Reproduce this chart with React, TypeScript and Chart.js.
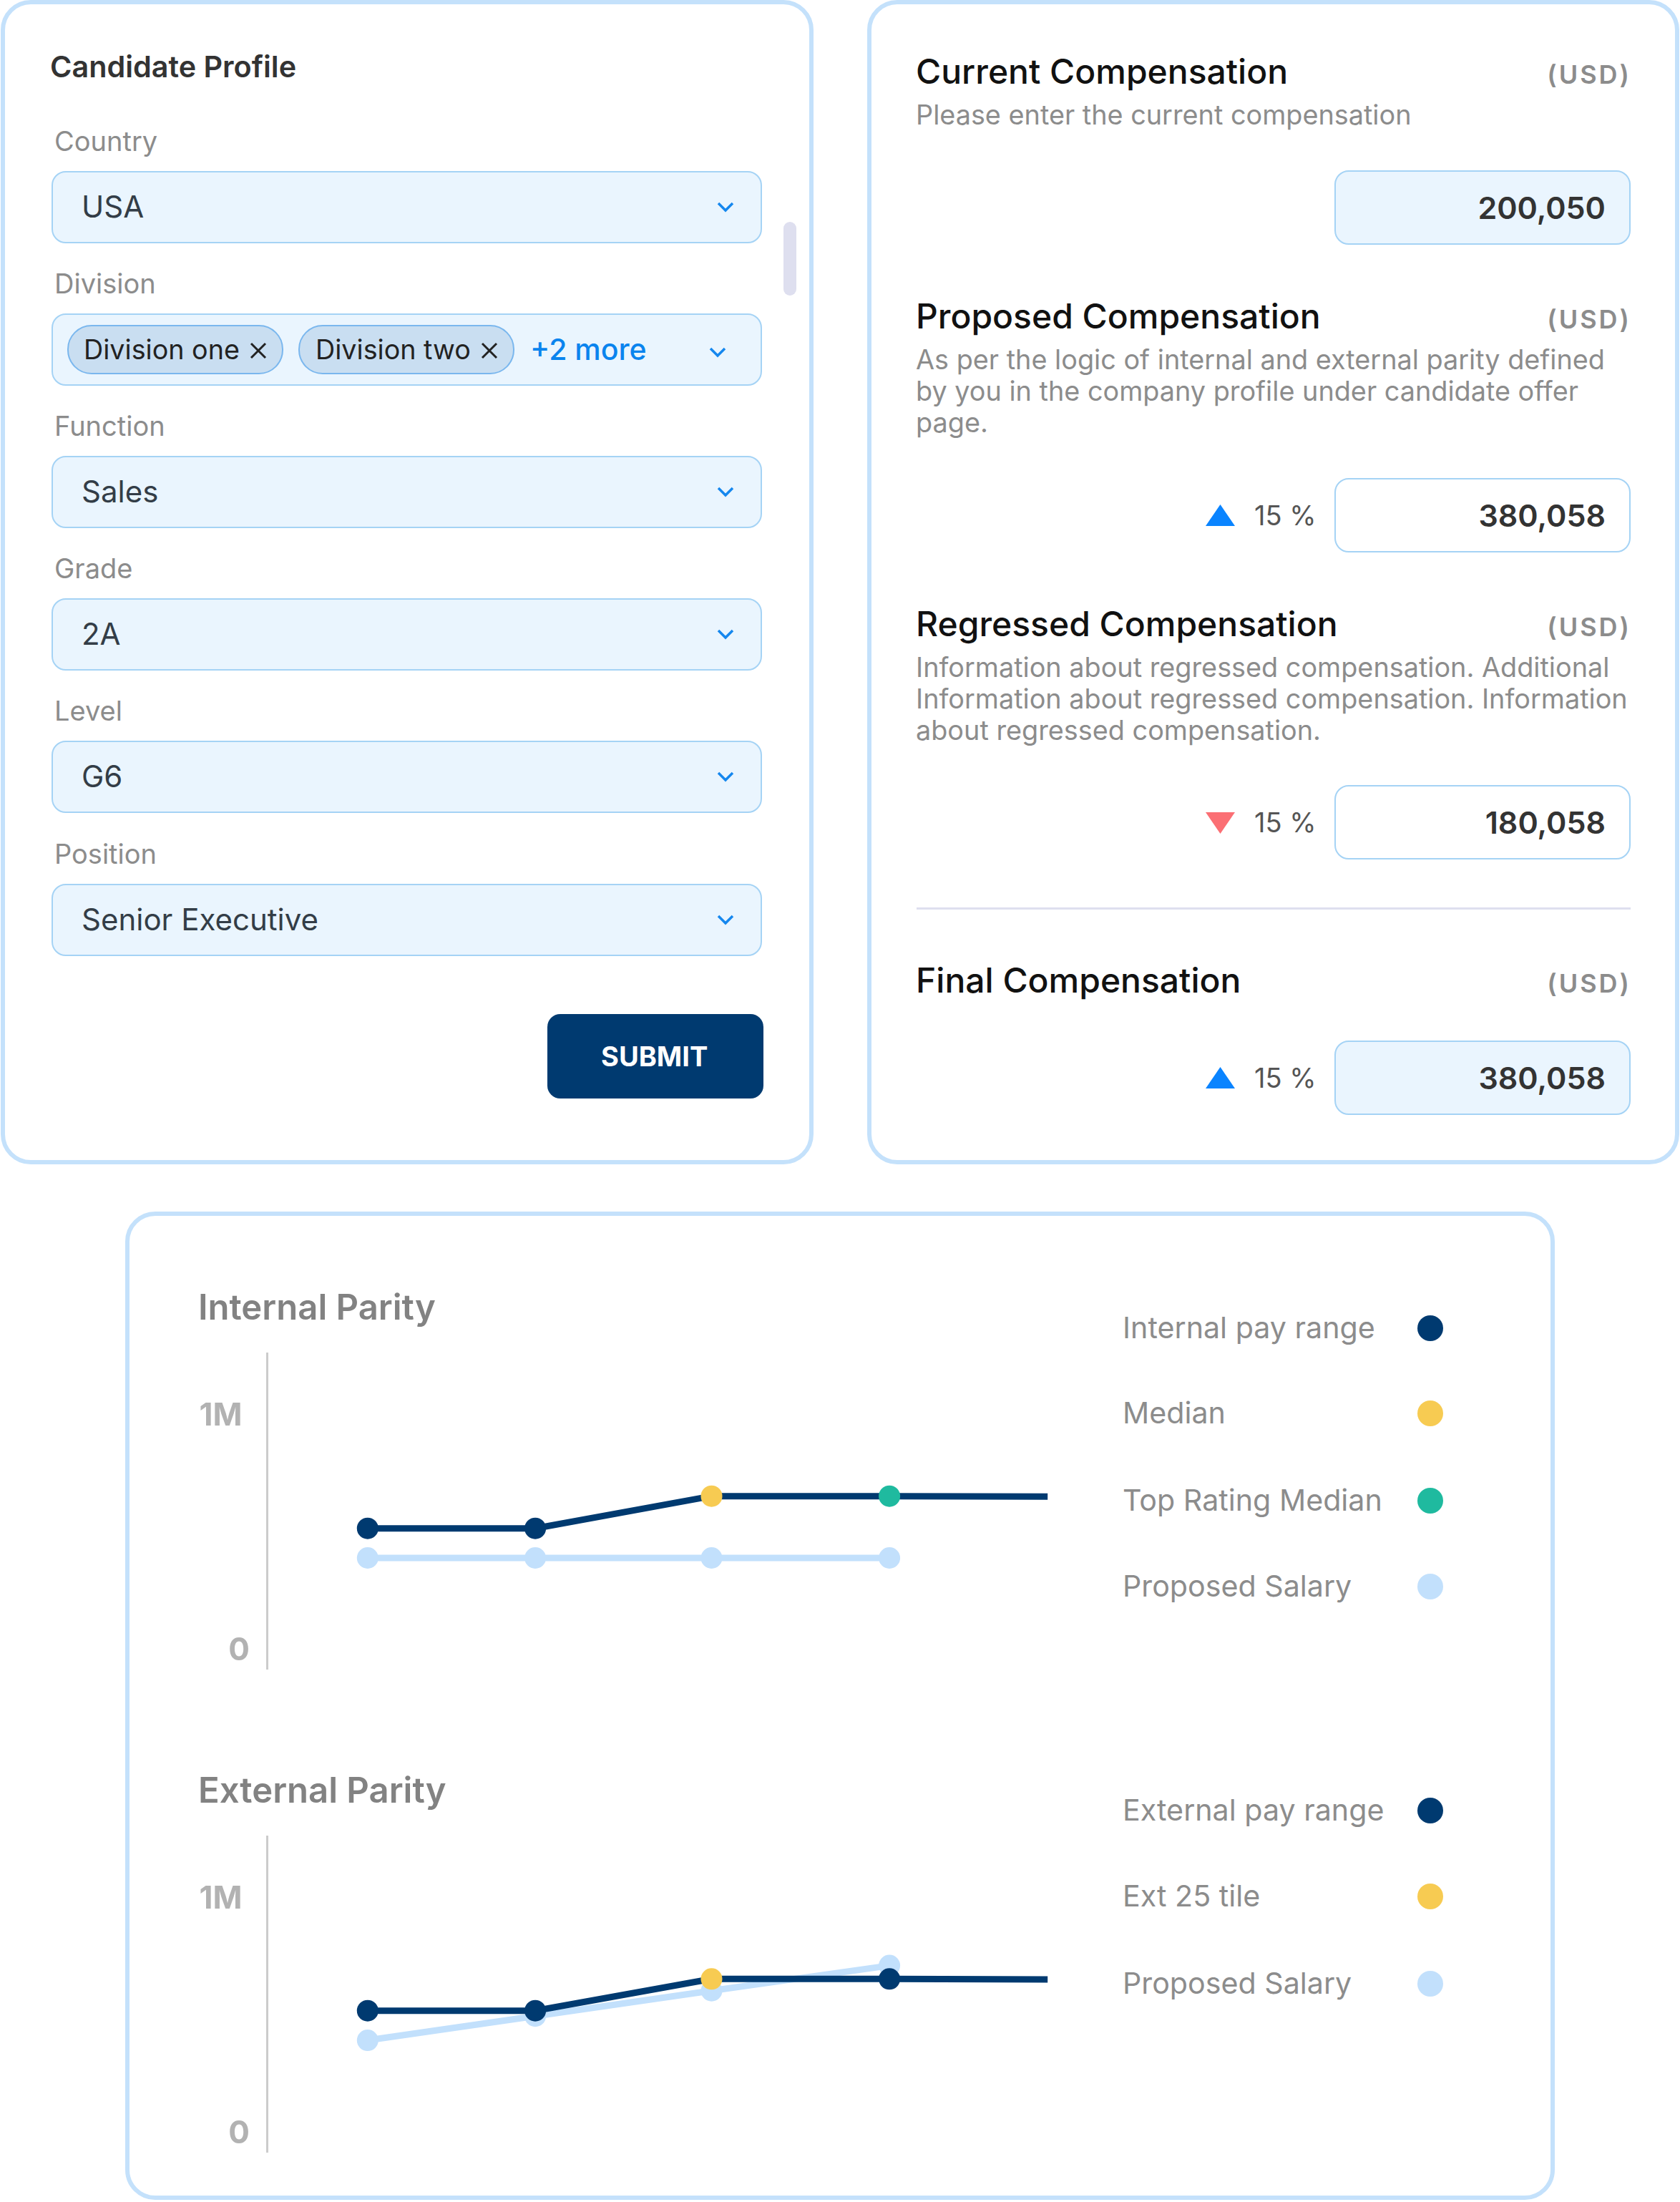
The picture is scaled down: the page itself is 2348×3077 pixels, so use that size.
import { useEffect, useRef } from "react";
import type { CSSProperties, ReactNode } from "react";
import Chart from "chart.js/auto";

// stops along the x axis (0-100), same for both parity charts
const xStops = [12.8, 34.1, 56.5, 79.1, 99.2];
const yTickValues = [0, 1];
const yTickLabels = ["0", "1M "];

const DARK = "#003a70";
const LIGHT = "#c2e0fc";
const YELLOW = "#f7cb52";
const TEAL = "#1fba9f";

const internalRange = [0.515, 0.515, 0.652, 0.652, 0.65];
const internalProposed = [0.389, 0.389, 0.389, 0.389];
const internalColors = [DARK, DARK, YELLOW, TEAL, DARK];

const externalRange = [0.518, 0.518, 0.653, 0.653, 0.651];
const externalProposed = [0.392, 0.495, 0.603, 0.71];
const externalColors = [DARK, DARK, YELLOW, DARK, DARK];

const internalLegend = ["Internal pay range", "Median", "Top Rating Median", "Proposed Salary"];
const internalLegendColors = [DARK, YELLOW, TEAL, LIGHT];
const externalLegend = ["External pay range", "Ext 25 tile", "Proposed Salary"];
const externalLegendColors = [DARK, YELLOW, LIGHT];

const dropdowns = [
  { label: "Country", value: "USA", top: 239 },
  { label: "Division", value: "", top: 438 },
  { label: "Function", value: "Sales", top: 637 },
  { label: "Grade", value: "2A", top: 836 },
  { label: "Level", value: "G6", top: 1035 },
  { label: "Position", value: "Senior Executive", top: 1235 },
];

const FONT = "Inter";
const CARD_BORDER = "#c4e1fb";
const INPUT_BG = "#eaf5fe";
const INPUT_BORDER = "#a5d3f5";
const GREY = "#8c8c8c";

function T({ x, y, right, size, color, weight = 400, spacing, children }: {
  x?: number;
  y: number;
  right?: number;
  size: number;
  color: string;
  weight?: number;
  spacing?: number;
  children: ReactNode;
}) {
  const style: CSSProperties = {
    position: "absolute",
    top: y,
    transform: "translateY(-50%)",
    fontSize: size,
    color,
    fontWeight: weight,
    letterSpacing: spacing,
    whiteSpace: "nowrap",
    lineHeight: 1,
  };
  if (right !== undefined) style.right = 2348 - right;
  else style.left = x;
  return <div style={style}>{children}</div>;
}

function Box({ x, y, w, h, r, bg, border, bw = 2 }: {
  x: number; y: number; w: number; h: number; r: number; bg?: string; border?: string; bw?: number;
}) {
  return (
    <div
      style={{
        position: "absolute",
        left: x,
        top: y,
        width: w,
        height: h,
        borderRadius: r,
        background: bg,
        border: border ? `${bw}px solid ${border}` : undefined,
        boxSizing: "border-box",
      }}
    />
  );
}

function Chevron({ cx, cy }: { cx: number; cy: number }) {
  return (
    <svg style={{ position: "absolute", left: cx - 13, top: cy - 8 }} width={26} height={16}>
      <polyline points="3,3 13,13 23,3" fill="none" stroke="#1587ee" strokeWidth={3.5} />
    </svg>
  );
}

function Triangle({ x, y, down }: { x: number; y: number; down?: boolean }) {
  return (
    <svg style={{ position: "absolute", left: x, top: y }} width={41} height={30}>
      <polygon
        points={down ? "0,0 41,0 20.5,30" : "0,30 41,30 20.5,0"}
        fill={down ? "#fb6f74" : "#0a84ff"}
      />
    </svg>
  );
}

function Cross({ cx, cy }: { cx: number; cy: number }) {
  return (
    <svg style={{ position: "absolute", left: cx - 12, top: cy - 12 }} width={24} height={24}>
      <path d="M2 2 L22 22 M22 2 L2 22" stroke="#222" strokeWidth={3} />
    </svg>
  );
}

function ParityChart({ top, range, proposed, colors }: {
  top: number;
  range: number[];
  proposed: number[];
  colors: string[];
}) {
  const canvasRef = useRef<HTMLCanvasElement>(null);

  useEffect(() => {
    if (!canvasRef.current) return;

    const chart = new Chart(canvasRef.current, {
      type: "line",
      data: {
        datasets: [
          {
            data: range.map((v, i) => ({ x: xStops[i], y: v })),
            borderColor: DARK,
            borderWidth: 9,
            pointBackgroundColor: colors,
            pointBorderWidth: 0,
            pointRadius: range.map((_, i) => (i === range.length - 1 ? 0 : 15)),
            order: 1,
          },
          {
            data: proposed.map((v, i) => ({ x: xStops[i], y: v })),
            borderColor: LIGHT,
            borderWidth: 9,
            pointBackgroundColor: LIGHT,
            pointBorderWidth: 0,
            pointRadius: 15,
            order: 2,
          },
        ],
      },
      options: {
        responsive: false,
        animation: false,
        devicePixelRatio: 1,
        layout: { padding: 0, autoPadding: false },
        plugins: { legend: { display: false }, tooltip: { enabled: false } },
        scales: {
          x: { type: "linear", display: false, min: 0, max: 100 },
          y: {
            type: "linear",
            min: -0.086,
            max: 1.263,
            afterBuildTicks: (scale) => {
              scale.ticks = yTickValues.map((value) => ({ value }));
            },
            afterFit: (scale) => {
              // tick labels sit well inside the axis, so no half-label padding
              scale.width = 123;
              scale.paddingTop = 0;
              scale.paddingBottom = 0;
            },
            grid: { display: false, drawTicks: false },
            border: { display: true, color: "#cccccc", width: 3 },
            ticks: {
              padding: 24,
              labelOffset: 2,
              color: "#b2b2b2",
              font: { family: FONT, size: 44, weight: 700 },
              callback: (value) => yTickLabels[yTickValues.indexOf(Number(value))],
            },
          },
        },
      },
    });

    return () => chart.destroy();
  }, [range, proposed, colors]);

  return (
    <canvas
      ref={canvasRef}
      width={1223}
      height={443}
      style={{ position: "absolute", left: 250, top }}
    />
  );
}

function Legend({ items, colors, ys }: { items: string[]; colors: string[]; ys: number[] }) {
  return (
    <>
      {items.map((item, i) => (
        <div key={item}>
          <T x={1569} y={ys[i]} size={41.2} color={GREY}>{item}</T>
          <Box x={1981} y={ys[i] - 18} w={36} h={36} r={18} bg={colors[i]} />
        </div>
      ))}
    </>
  );
}

function CompBlock({ title, titleY, desc, inputY, filled, value, pct, down }: {
  title: string;
  titleY: number;
  desc: string[];
  inputY: number;
  filled?: boolean;
  value: string;
  pct?: boolean;
  down?: boolean;
}) {
  return (
    <>
      <T x={1280} y={titleY} size={48} color="#111" weight={500}>{title}</T>
      <T right={2280} y={titleY + 4} size={36} color={GREY} weight={600} spacing={3}>(USD)</T>
      {desc.map((line, i) => (
        <T key={line} x={1280} y={titleY + 61 + i * 44} size={37.8} color={GREY}>{line}</T>
      ))}
      <Box x={1865} y={inputY} w={414} h={104} r={20} bg={filled ? INPUT_BG : "#fff"} border={INPUT_BORDER} />
      <T right={2244} y={inputY + 52} size={43} color="#333" weight={600}>{value}</T>
      {pct && <Triangle x={1685} y={inputY + (down ? 38 : 37)} down={down} />}
      {pct && <T x={1753} y={inputY + 52} size={38} color="#555">15 %</T>}
    </>
  );
}

export default function App() {
  return (
    <div
      style={{
        position: "absolute",
        left: 0,
        top: 0,
        width: 2348,
        height: 3077,
        overflow: "hidden",
        background: "#fff",
        fontFamily: FONT,
      }}
    >
      {/* left card */}
      <Box x={1} y={0} w={1136} h={1627} r={42} border={CARD_BORDER} bw={6} />
      <T x={70} y={94} size={41.3} color="#333" weight={600}>Candidate Profile</T>
      {dropdowns.map((d) => (
        <div key={d.label}>
          <T x={76} y={d.top - 42} size={38} color={GREY}>{d.label}</T>
          <Box x={72} y={d.top} w={993} h={101} r={20} bg={INPUT_BG} border={INPUT_BORDER} />
          {d.value && <T x={114} y={d.top + 50} size={42} color="#333d47">{d.value}</T>}
          {d.value && <Chevron cx={1014} cy={d.top + 50} />}
        </div>
      ))}
      <Box x={94} y={454} w={302} h={69} r={34} bg="#c9def1" border="#7ab7ee" />
      <T x={117} y={489} size={37.7} color="#222">Division one</T>
      <Cross cx={361} cy={490} />
      <Box x={417} y={454} w={302} h={69} r={34} bg="#c9def1" border="#7ab7ee" />
      <T x={441} y={489} size={37.7} color="#222">Division two</T>
      <Cross cx={684} cy={490} />
      <T x={741} y={488} size={41} color="#0a84ee" weight={500}>+2 more</T>
      <Chevron cx={1003} cy={492} />
      <Box x={1095} y={310} w={18} h={103} r={9} bg="#dedfef" />
      <Box x={765} y={1417} w={302} h={118} r={18} bg={DARK} />
      <T x={840} y={1476} size={38} color="#fff" weight={700}>SUBMIT</T>

      {/* right card */}
      <Box x={1212} y={0} w={1135} h={1627} r={42} border={CARD_BORDER} bw={6} />
      <CompBlock
        title="Current Compensation"
        titleY={100}
        desc={["Please enter the current compensation"]}
        inputY={238}
        filled
        value="200,050"
      />
      <CompBlock
        title="Proposed Compensation"
        titleY={442}
        desc={[
          "As per the logic of internal and external parity defined",
          "by you in the company profile under candidate offer",
          "page.",
        ]}
        inputY={668}
        value="380,058"
        pct
      />
      <CompBlock
        title="Regressed Compensation"
        titleY={872}
        desc={[
          "Information about regressed compensation. Additional",
          "Information about regressed compensation. Information",
          "about regressed compensation.",
        ]}
        inputY={1097}
        value="180,058"
        pct
        down
      />
      <Box x={1281} y={1268} w={998} h={3} r={0} bg="#dedfef" />
      <CompBlock
        title="Final Compensation"
        titleY={1370}
        desc={[]}
        inputY={1454}
        filled
        value="380,058"
        pct
      />

      {/* parity card */}
      <Box x={175} y={1693} w={1998} h={1381} r={42} border={CARD_BORDER} bw={6} />
      <T x={277} y={1826} size={49} color="#828282" weight={600}>Internal Parity</T>
      <ParityChart top={1890} range={internalRange} proposed={internalProposed} colors={internalColors} />
      <Legend items={internalLegend} colors={internalLegendColors} ys={[1856, 1975, 2097, 2217]} />
      <T x={277} y={2501} size={49} color="#828282" weight={600}>External Parity</T>
      <ParityChart top={2565} range={externalRange} proposed={externalProposed} colors={externalColors} />
      <Legend items={externalLegend} colors={externalLegendColors} ys={[2530, 2650, 2772]} />
    </div>
  );
}
